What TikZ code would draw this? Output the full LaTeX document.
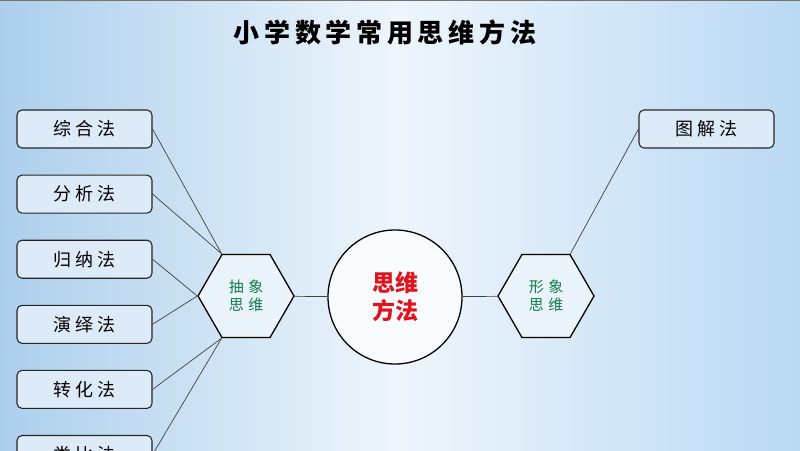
\documentclass[tikz,border=0pt]{standalone}
\usepackage{fontspec}
\setmainfont{Noto Sans CJK SC}
\usetikzlibrary{positioning, shapes.geometric, fadings}

\definecolor{bgedge}{RGB}{172,207,236}
\definecolor{bgright}{RGB}{186,217,243}
\definecolor{bgmid}{RGB}{238,245,251}
\definecolor{boxfill}{RGB}{220,235,247}
\definecolor{hexgreen}{RGB}{20,125,75}
\definecolor{mainred}{RGB}{225,20,30}
\tikzfading[name=band, top color=transparent!100, middle color=transparent!0, bottom color=transparent!100]

\begin{document}
\begin{tikzpicture}[x=1pt, y=-1pt,
        method/.style={draw=black!85, line width=1.1pt, rounded corners=5pt, fill=boxfill,
            minimum width=135pt, minimum height=38pt, inner sep=0pt,
            font=\fontsize{18}{20}\selectfont\addfontfeatures{LetterSpace=22}},
        hexa/.style={regular polygon, regular polygon sides=6, draw, line width=1.3pt,
            minimum size=96pt, inner sep=0pt, fill=bgmid!80!boxfill, text=hexgreen, align=center,
            font=\fontsize{15}{18}\selectfont\addfontfeatures{LetterSpace=30}},
        link/.style={draw=black!75, line width=0.7pt}]
    % background
    \clip (0,0) rectangle (800,450);
    \shade[left color=bgedge, right color=bgright, middle color=bgmid] (0,0) rectangle (800,450);
    \fill[white, opacity=0.45, path fading=band] (0,300) rectangle (800,420);
    \draw[black!55, line width=2pt] (0,0) -- (800,0);

    \node [font=\fontsize{26}{28}\selectfont\bfseries\addfontfeatures{LetterSpace=18}] (title) at (385,32) {小学数学常用思维方法};

    % left methods
    \node [method] (m1) at (84.5,129) {综合法};
    \node [method, below=26pt of m1] (m2) {分析法};
    \node [method, below=26pt of m2] (m3) {归纳法};
    \node [method, below=26pt of m3] (m4) {演绎法};
    \node [method, below=26pt of m4] (m5) {转化法};
    \node [method, below=26pt of m5] (m6) {类比法};

    % centre
    \node [hexa] (abs) at (246,296) {抽象\\思维};
    \node [circle, draw, line width=1.3pt, fill=white!60!bgmid, minimum size=134pt, text=mainred, align=center,
        font=\fontsize{23}{28}\selectfont\bfseries] (core) at (395,297) {思维\\方法};
    \node [hexa] (img) at (546,296) {形象\\思维};
    \node [method] (t1) at (706.5,129) {图解法};

    \draw [link] (m1.east) -- (abs.120);
    \draw [link] (m2.east) -- (abs.120);
    \draw [link] (m3.east) -- (abs.180);
    \draw [link] (m4.east) -- (abs.180);
    \draw [link] (m5.east) -- (abs.240);
    \draw [link] (m6.east) -- (abs.240);
    \draw [link] (abs) -- (core);
    \draw [link] (core) -- (img);
    \draw [link] (img.60) -- (t1.west);
\end{tikzpicture}
\end{document}
